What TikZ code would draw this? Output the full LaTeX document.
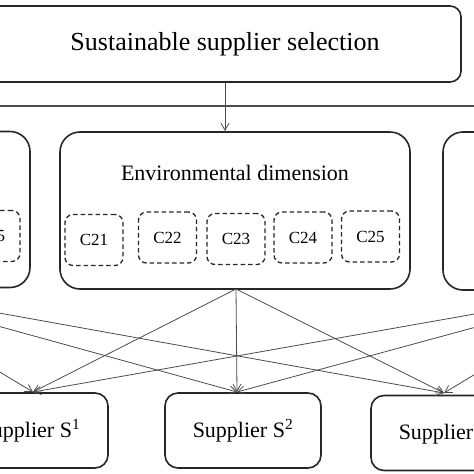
\documentclass[tikz,border=0pt]{standalone}
\usepackage{fontspec}
\setmainfont{Liberation Serif}
\usetikzlibrary{arrows.meta}
\begin{document}
\begin{tikzpicture}[x=1pt,y=-1pt,
  bigbox/.style={draw=black!85, line width=1.6pt, rounded corners=20pt, inner sep=0pt},
  topbox/.style={draw=black!85, line width=1.6pt, rounded corners=11pt, inner sep=0pt,
     minimum width=472pt, minimum height=76pt, font=\fontsize{26}{30}\selectfont},
  crit/.style={draw=black!85, line width=1.3pt, dash pattern=on 4.5pt off 3pt,
     rounded corners=8pt, minimum width=58pt, minimum height=51pt, inner sep=0pt,
     font=\fontsize{17}{20}\selectfont},
  supbox/.style={draw=black!85, line width=1.6pt, rounded corners=13pt, inner sep=0pt,
     minimum width=156pt, minimum height=75pt, font=\fontsize{22}{26}\selectfont},
  dimlabel/.style={inner sep=0pt, font=\fontsize{22}{26}\selectfont},
  link/.style={draw=black!70, line width=0.8pt, -{Straight Barb[length=7pt,width=8pt,line width=0.8pt]}}
]
\useasboundingbox (0,0) rectangle (474,474);
\clip (0,0) rectangle (474,474);

% top goal
\node[topbox] (goal) at (225,44) {Sustainable supplier selection};

% separator line
\coordinate (sepL) at (0,106);
\coordinate (sepR) at (474,106);
\draw[black!70, line width=1.4pt] (sepL) -- (sepR);

% dimensions
\node[bigbox, minimum width=350pt, minimum height=156pt] (dimL) at (-145,209.5) {};
\node[bigbox, minimum width=350pt, minimum height=157pt] (dimE) at (235,210.5) {};
\node[bigbox, minimum width=350pt, minimum height=158pt] (dimR) at (618,211) {};
\node[dimlabel] (envlabel) at (235,173) {Environmental dimension};

% criteria
\node[crit] (c15) at (-9,236) {C15};
\node[crit] (c21) at (94,240) {C21};
\node[crit] (c22) at (167.5,237.5) {C22};
\node[crit] (c23) at (236,239) {C23};
\node[crit] (c24) at (303,237.5) {C24};
\node[crit] (c25) at (370.5,236.5) {C25};

% suppliers
\node[supbox] (s1) at (30,430.5) {Supplier S\textsuperscript{1}};
\node[supbox] (s2) at (243,430.5) {Supplier S\textsuperscript{2}};
\node[supbox] (s3) at (449,433) {Supplier S\textsuperscript{3}};

% connector points
\coordinate (gL) at (-140,288);
\coordinate (gE) at (236,289);
\coordinate (gR) at (616,289);
\coordinate (t1) at (33,392);
\coordinate (t2) at (237,392);
\coordinate (t3) at (444,393);
\coordinate (envtop) at (225,131);

% goal -> environmental dimension
\draw[link] (goal.south -| envtop) -- (envtop);

% dimensions -> suppliers
\foreach \src in {gL,gE,gR}{
  \foreach \dst in {t1,t2,t3}{
    \draw[link] (\src) -- (\dst);
  }
}
\end{tikzpicture}
\end{document}
